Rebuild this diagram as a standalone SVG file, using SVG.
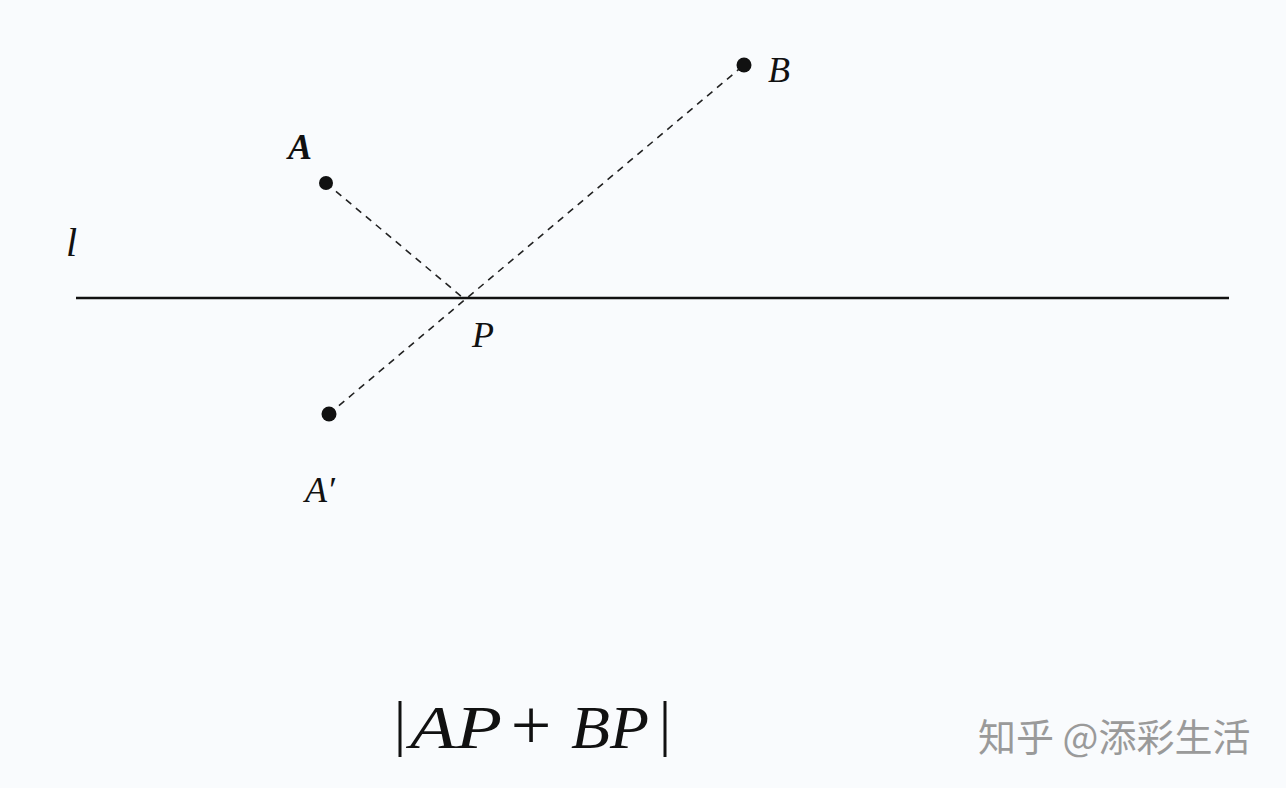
<svg xmlns="http://www.w3.org/2000/svg" width="1286" height="788" viewBox="0 0 1286 788">
<style>
.lbl{font-family:"Liberation Serif","DejaVu Serif",serif;font-style:italic;fill:#111;}
.dash{stroke:#222;stroke-width:1.6;stroke-dasharray:7,6;fill:none;}
.pt{fill:#111;}
</style>
<rect width="1286" height="788" fill="#f9fbfd"/>
<g id="line-l">
<line x1="76" y1="298" x2="1229" y2="298" stroke="#111" stroke-width="2.5"/>
<text class="lbl" x="66" y="256" font-size="40">l</text>
</g>
<g id="connectors">
<line class="dash" x1="326" y1="183" x2="462" y2="297"/>
<line class="dash" x1="329" y1="414" x2="744" y2="65"/>
</g>
<g id="node-A">
<circle class="pt" cx="326" cy="183" r="7"/>
<text class="lbl" x="288" y="159" font-size="36" font-weight="bold">A</text>
</g>
<g id="node-B">
<circle class="pt" cx="744" cy="65" r="7.5"/>
<text class="lbl" x="768" y="82" font-size="36">B</text>
</g>
<g id="node-P">
<text class="lbl" x="472" y="347" font-size="36">P</text>
</g>
<g id="node-A-prime">
<circle class="pt" cx="329" cy="414" r="7.5"/>
<text class="lbl" x="305" y="502" font-size="36">A′</text>
</g>
<g id="formula">
<line x1="400" y1="701" x2="400" y2="757" stroke="#111" stroke-width="3"/>
<text class="lbl" x="410" y="748" font-size="62" textLength="92" lengthAdjust="spacingAndGlyphs">AP</text>
<text x="531" y="749" font-size="72" font-family="'Liberation Serif',serif" fill="#111" text-anchor="middle">+</text>
<text class="lbl" x="571" y="748" font-size="62" textLength="78" lengthAdjust="spacingAndGlyphs">BP</text>
<line x1="665" y1="701" x2="665" y2="757" stroke="#111" stroke-width="3"/>
</g>
<g id="watermark">
<text x="978" y="751" font-size="38" font-family="'Noto Sans CJK SC',sans-serif" fill="#9a9a9a">知乎 @添彩生活</text>
</g>
</svg>
